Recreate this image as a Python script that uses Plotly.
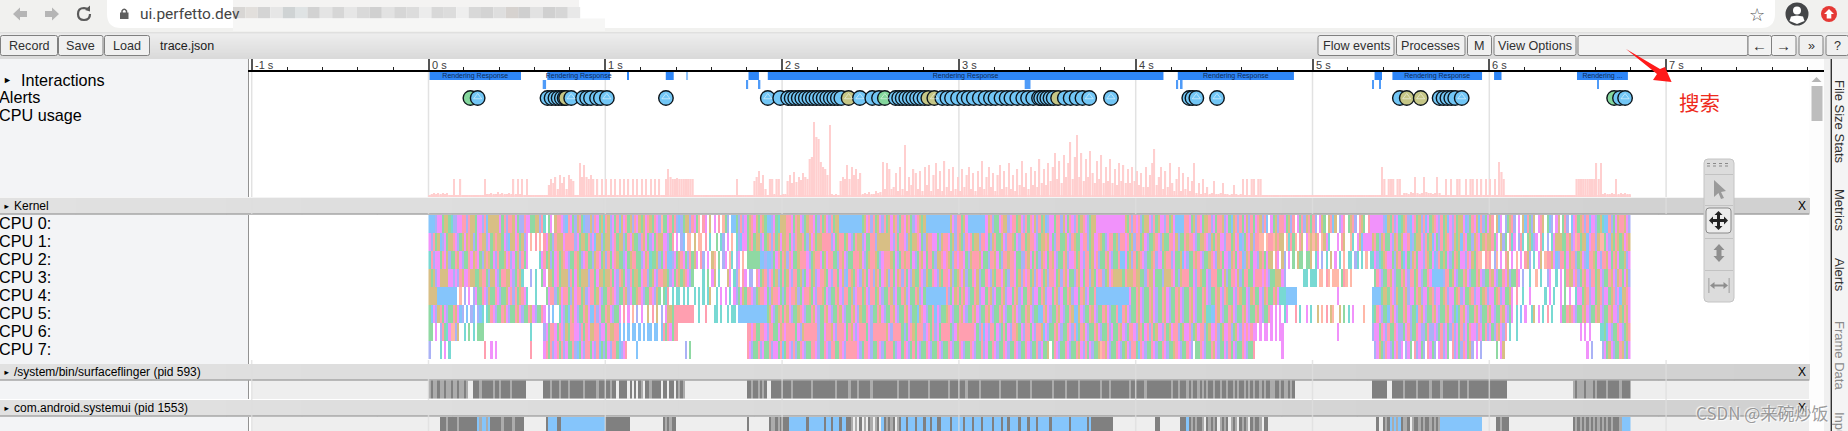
import plotly.graph_objects as go

W = 1848
H = 431
DT = 0.0125  # one letter / one usage value in the tracks below

time_ticks = [-1, 0, 1, 2, 3, 4, 5, 6, 7]
time_labels = ["-1 s", "0 s", "1 s", "2 s", "3 s", "4 s", "5 s", "6 s", "7 s"]

interaction_starts = [0.006, 0.672, 1.126, 1.342, 1.459, 1.810, 1.919, 4.238, 5.351, 5.452, 6.027, 6.496]
interaction_ends = [0.523, 1.027, 1.134, 1.387, 1.468, 1.869, 4.157, 4.895, 5.393, 5.959, 6.069, 6.784]
interaction_labels = ["Rendering Response", "Rendering Response", "", "", "", "", "Rendering Response",
                      "Rendering Response", "", "Rendering Response", "", "Rendering ..."]
interaction_pale = [False, False, False, False, True, False, False, False, False, False, False, False]

sub_starts = [0.646, 1.799, 1.869, 3.372, 4.229, 4.255, 5.342, 5.380, 6.614]
sub_ends = [0.665, 1.808, 1.877, 3.405, 4.240, 4.265, 5.347, 5.386, 6.620]

alert_times = [0.237, 0.278, 0.673, 0.696, 0.718, 0.736, 0.754, 0.770, 0.778, 0.807, 0.874, 0.897, 0.919,
               0.953, 0.975, 1.009, 1.343, 1.919, 1.989, 2.034, 2.054, 2.074, 2.094, 2.114, 2.134, 2.154,
               2.174, 2.194, 2.215, 2.235, 2.255, 2.275, 2.295, 2.315, 2.335, 2.376, 2.440, 2.510, 2.548,
               2.581, 2.642, 2.662, 2.682, 2.702, 2.722, 2.742, 2.763, 2.783, 2.805, 2.827, 2.861, 2.906,
               2.935, 2.961, 2.995, 3.029, 3.055, 3.084, 3.118, 3.151, 3.181, 3.207, 3.241, 3.270, 3.297,
               3.330, 3.364, 3.391, 3.420, 3.453, 3.465, 3.483, 3.500, 3.518, 3.536, 3.561, 3.599, 3.632,
               3.666, 3.699, 3.737, 3.860, 4.303, 4.321, 4.343, 4.460, 5.494, 5.533, 5.612, 5.719, 5.741,
               5.763, 5.785, 5.807, 5.844, 6.706, 6.739, 6.768]
alert_kinds = {0.237: "g", 0.778: "o", 2.376: "o", 2.581: "g", 2.827: "o", 2.861: "o", 3.561: "o",
               5.533: "o", 5.612: "o", 6.706: "g"}
alert_icons = [0.278, 0.807, 1.009, 1.343, 1.919, 2.376, 2.440, 2.581, 2.861, 3.737, 3.860, 4.343, 4.460,
               5.533, 5.612, 5.844, 6.768]

# cpu usage per DT, one list per second
usage = [
    [2,3,4,3,4,3,4,3,4,2, 2,18,2,2,18,2,2,2,2,2, 2,2,2,2,2,18,3,3,4,3, 3,5,3,4,3,3,4,3,18,3,
     18,3,18,2,18,2,2,2,2,2, 2,2,2,2,12,18,14,20,8,22, 14,20,8,22,18,16,2,2,34,20, 32,20,18,22,18,2,18,2,18,2],
    [18,2,18,2,18,2,18,2,18,2, 18,2,18,2,18,2,18,2,18,2, 18,2,18,2,18,2,2,18,28,20, 18,18,19,18,18,18,18,18,18,18,
     2,2,2,2,2,2,2,2,2,2, 2,2,2,2,2,2,2,2,2,18, 2,2,2,2,2,2,2,16,20,26, 14,22,8,2,18,18,3,18,18,2],
    [3,3,16,22,14,25,15,20,17,24, 20,18,38,40,75,60,58,35,30,28, 22,72,3,2,3,2,16,20,18,32, 18,30,22,28,18,24,3,4,3,5,
     3,3,6,4,5,35,8,34,28,8, 10,24,6,30,8,52,6,20,12,28, 24,8,26,6,30,12,32,6,22,34, 8,26,6,36,10,28,6,30,8,20],
    [6,28,10,22,30,8,24,6,26,10, 36,8,20,30,10,24,6,22,32,8, 26,10,34,8,22,6,28,12,36,10, 24,8,30,12,26,10,38,14,28,12,
     34,16,30,44,18,36,14,42,20,34, 55,18,40,62,20,44,16,38,20,46, 24,14,36,18,42,14,30,16,38,14, 28,12,34,16,32,14,28,14,30,16],
    [26,12,24,10,30,10,22,34,48,12, 20,30,8,26,10,34,14,6,18,30, 6,24,8,20,6,16,34,4,14,3, 18,4,10,3,4,16,3,3,4,14, 3,3,2,3,12,3,2,3,18,2,
     18,2,18,18,2,18,18,2,2,2, 2,2,2,2,2,2,2,2,2,2, 2,2,2,2,2,2,2,2,2,2],
    [2,2,2,2,2,2,2,2,2,2, 2,2,2,2,2,2,2,2,2,2, 2,2,2,2,2,2,2,2,2,2, 2,30,18,2,18,18,18,2,18,18, 2,4,4,3,5,4,20,4,3,4,
     20,5,4,4,3,4,20,4,2,2, 18,2,18,2,2,18,18,2,2,18, 2,18,18,2,18,2,18,2,18,2],
    [18,2,18,2,35,25,18,2,2,2, 2,2,2,2,2,2,2,2,2,2, 2,2,2,2,2,2,2,2,2,2, 2,2,2,2,2,2,2,2,2,18,
     18,18,18,18,18,18,18,18,34,18, 34,3,4,3,3,4,3,18,3,4, 3,4,3,3],
]

cpu_rows = [
    # CPU 0
    ["bbblmmgttg cllmmpplpt tgmmlpbttt ttmgplpptm gllpmmggtt lpc.gm.tpp mlbpmgltpg blltlpmgtc",
     "ptlmgpbtmp gtlpmtgtmp tgpmloggmp gplblgttlp mgo.pm.t.m .p.ogl.bbg lplmgtpmtg ptgbblmgct",
     "ttppmgptml gtppmglpgt mlpgttbbbb bbbbbbgtmp lpgtmlpgtm tplgpmtpgl mptgtbbbbb bbbbbbtmlp",
     "pgtmbbbbbb bbmtplggmp ttlmppgtml pgpmtlpgtb lmmgppltmg pmlpgtpmlg ttmmmmmmmm mmmmmtgplp",
     "mplgttmlpg tmmlpgtmbb bbppmgtlpm gttplmgppt lmgbtplpgm tlpgmptlpb .mgtlppmgt lp.mgpltpg",
     "pl.mtg.tpb t.lmp.gtpl .ptg.pmmmm mmlbtgplmc gtplbmpgtl pbmgtpmlpg tbmlpgttmb lgpmtbplgm",
     "tp.tbm.lgt pl.m.tbpgl t.mpt.gbl. mt.gpl.bmp gtplpbmmlg tcbbplgmtp ptml"],
    # CPU 1
    ["mlpgtblmgt tpmlgtmtpt lgmpttlmgt pttgmlbttm pgtlm.o.p. o.pmtglptt tmpppplmgt tgplmbttlg",
     "ttlmpgttlg pmtgglptmg lmgpttmmlg p.m.lb.oo. t.oo.p.c.. g.cl.m.o.c lbmmgtpgtt lmgtplpgtm",
     "ttpgmlpttp gltmpgttpp pplmgtppgt mlgpttlmgg pplttttttm lpgppmltgt tpmgltppmm gltppmgtlp",
     "tglpmpgttl ppmgltpggt mlpptgmlpp gtppmlgttp tmglppggtm lptggmpplg tmmptglmpp gtlppmpgtl",
     "ppgtmlggtp mltggppmtl ggptppmlgt tpmltgptmm lppgtmpblg pmtlppoo.o ppotptt.oc pgo.pt.mot",
     "otp.otmc.. .m.pt..oc. mtbmmmmtpg ltpggmltpg tmmpblgttm lpgtbmglpg tpmltgtbpm ggltpmgtpt",
     "tpgm.tlg.p cm.lpc.gtc lm.pc.l.cm tttggptlmo pgttbmpplt oogmltgptg tmpt"],
    # CPU 2
    ["cplmmgpmtl ggptmlggpm tpmgltptgm lpggtmplmg tlpgm..... cmpgtlgmpg tpmlggptgl mpggltpmgt",
     "lpgmptgglm gtppgglmtp cggtlgmpbb lmgtpmglpg tm.pl.m.to .g.lm.oc.l m.o.gggggg bblbblgmpg",
     "ptlpmggtpp pmlgtppmgt mppgglptml ggppptmlgt pptglmpppt gmlgptppgm lgptmgppgl ttpmptglpm",
     "ppmgltpppt mgglpptmgl pptppmggll ptmgpgltpm gptmlggptl mmpgtmlppg tmplggptml ggpbbmgtlp",
     "gtpmlggtpl mmgtpplmgg tbmlggptpm lggtpmltpg mmltpgmpbl tpgmmltpgm tt.pm.tl.m .g.tgg.ggt",
     ".cm.l.c.t. m.c.o.cc.l c.c.o.ccml cgtpmmgltp gbmgltpgmm lptgmblpgt gmlgptgmml pmtgpoo.po",
     "p.lo.m.pt. m.o.m.ptl. c.mt.opptm blppgmtppl gtmlbpptgm lpptmgptmg gtlm"],
    # CPU 3
    ["tgtlmttttm mlmlptmmpt tggtppgltt mlgppttmlg ptc...l.c. .gm.ttgmpg tttlpgmtgt ttlppgmttg",
     "ttpgmlptgm lpgttgmppl gtmlppttgl mgptgtpmlg ....c.g.mt .c...tm.cl o.pm.ll.pm gtplmpgtlg",
     "pgtmlppgtl gmpgtlmppt gmlppgmtlb ptgpmltpgm pltpgmptlp gmtplpgmlt ggpmltggpm ltgppmtlgt",
     "pmtlggpmtl ggpmltgppm tglppmgtlp mpgtlpmpgt lppmgtlptm gglptmgppl tgmppl gtmp ttttgptttp",
     "ttgglpttmg ggltttpmgl tpppggmlpt ggmlpppggm tlgppmtlgp pggmpppmpm lggtttml.. ......cc.c",
     "cc.oo.po.o oo.gpo.o.. ........gp mlggptmlgg ptmlppgtml ggpmbbbbbl ppgtmlggpt mlggptmlgg",
     "ptmlggpmtl ggpm.l..c. .o.c..lm.. c.m.gpttmp lgptmlppgt mlggptmltp gmtl"],
    # CPU 4
    ["ttttbbbbbb bbb.o.l.m. lmggpmltgg pmlggtmplp gtpmc...c. ...gmpplgt mppgltmppg tlmppgtmlg",
     "gptpmlggpt lmggtpmlgg pmltg.gcp. c.cc.c.c.. c.c.c.ct.. c.m.m.c.ml gmtgppmlgt ppmgltppmg",
     "lgpmpptlgm pptgmlpptg mlggptmlpp gtlmppgtml ppgtmlggpt lmggptlmgg ptlmgbbbbb bbbbplgmtp",
     "gptmlggptl mmgptlmggp tlmmgptlmg gptlmmgptl mmgptlmggp tlmmgptlmg gpbbbbbbbb bbbbbbbmgg",
     "ptmlggptml ggptmlggpt mlggptmlgg ptmlggptml ptggmlptgg mltpggmltp ggptmcccbb bbb.......",
     ".......... .m........ .......bbb bgttgpmltg gptlmmgptl mmgtplmmgt plmmgtplmg gtplmmgtpl",
     "mmgtplmggt m.p..c..m. .....c.m.c ..m.g.m..c mmgtplmmgt plmmgtplmb ttpm"],
    # CPU 5
    ["gbmltpgmlg gptmbl.b.l b.lbc.cgpm lggptmlggp tmlggptmlg gpm.l.b..c mlgbptmlgg ptmbbplmgg",
     "ptmlggm.p. m.o.l.m..t .p.t.l.mtt gppppppppp ..c..p...c c.c..c.cc. bbbbbbbbbb bbbgtmlgtp",
     "gptmlggtpm lggptmlggp tmlggptmlg gptmltggpm lggptmlggp tmlggptmlg gbtpmlggpb mlggtpmlgg",
     "ptmlggptml ggptmlggpt mlggptmlgg ptmlggbbpt mlggptmlgg ptbbtmlggp tmlggptmlg gpbbptmlgg",
     "ptmlggptml ggptmlggpt mlggptmlgg ptccbbptml ggptmlggpt mlggptmlgg pm.m.m.cm. ..p.c..m.c",
     "..t.o.p.to ..t.g.c.m. ...o...cgp mlggbptmlg gptmlggbpt mlggptmlgg ptmlgbgptm lggptmlggp",
     "tmlggptmlg m.c.b.m..c t.m.c.p.c. ..mggptpml ggptmlggpt mlggptmmlt gptm"],
    # CPU 6
    ["gg.m.lpgcm oolt..c.g. c.ggg..... .......... ......c... ..lmgppmgp mltgppmmlp gpmttpplmm",
     "gpttppb.b. b.bb.b.b.b b.bb.bpgpm gpp....... .......... .......... ....ppmpgg ppmlppggmt",
     "pmppppgmlt pppppplggm pptmlpppmg ptmlmpppgm lpppppptml ppppglgmpt gppplmpgpl mgppppglmt",
     "pppppppmgl pbmlppgmlg pgmlpptgml ppgmlpptbm lggptmlggp mlpbgptmlg gptmlggplm ggptmlgppm",
     "ltpgmplpgt mmlpgtmppl gtmmplgtmp plgtmmplgt mmplgtmlpm pmpmm.m.mm .m.m.mm... ..........",
     ".......... .m........ .......lmm gpmlpggpml lgmplggpml lgpllmlgpl mglplmgplm gpmmlpmgpl",
     "mglptmlp.c ..c....... .......... ..........  .m.m.m.... ccgbmlggpm lgtp"],
    # CPU 7
    ["l....c.m.c .......... .....p..m. m......... ......p... ..mpgplmpg plmggplbgm lppgmlpbgl",
     "gmlppgblmp ....b..... .......... ......l.g. .......... .......... ....pmlggp lmggplmmgp",
     "bgpmlplgpm lggppmlggp mlppggpmlp ppppmlgppm lggpmlgppp glmmgpmlgp gmlggpmlgg pmlggpmlgg",
     "pmlggpmlgg plmggpmlgg pmlggpmlgg pmlggplmgg t.gpmlggpm lggptmlpgm lggtoptmlg gpmlgtmlpp",
     "gbpmlggpml ggpmlggtpm lggpml.ggp mlggptmlgg mlpgmlggpm lggp...... ......m... ..........",
     ".......... .......... ........lm tglpmlgmpl m.lmg.plmg l.pmgl.mpl mg.plmglpm gtl.m.l...",
     "...g.mt... .......... .......... ............ ..m.l... .lmgtmlggp tlgm"],
]

# d = dark slice, a = light slice, b = blue slice, . = no slice
surfaceflinger_row = [
    "adaadaadaa daadaada.. dddaddddda ddaddddadd dddd...... ..dddaddda dddadddddd adddddaddd",
    "ddadd.dddd .d.d.da.dd adddd.dd.d d.dada.... .......... .......... ....ddadda dad..ddddd",
    "ddddaddddd dddadddddd ddddaddddd adddaddddd addddddddd ddaddddadd ddddddaddd dddddadddd",
    "dddaddddda ddddddddad ddddddaddd ddaddddddd ddadddddad ddddaddddd ddddadddad dddddddadd",
    "ddddaddddd ddddddadda dddadaddad adaddaddad daddadadda dadaddadad daaddadaad ad........",
    ".......... .......... .......ddd dddd..dddd dadddddadd dddaddddad ddddddaddd addddddddd",
    "dddddddd.. .......... .......... ........ad aaadaaadad dddaddddda dddd",
]
systemui_row = [
    ".....dddad dddadddddd ddbabbabdd dddaddddad ddd....... ...dbbbbdd bbbbbbbbbb bbbbbbbbbb",
    "dddddddddd d......... ......dada dd........ .......... .......... ....d..... ....daadad",
    "dddbbbbbbb bdbbbbbbbd bbdbbbdbbd da.a.d.a.d a.ad.bdada d.adbbdbbb dbbbdbbdbb ddbbbbdbbb",
    "bbdbbbdbbb dbbbbdbbbd bbdbbbbdbb bdbbbdbbbb bdbbbbbbbb dbbbbbbbdb dddddddddd ..........",
    ".........d d......... dddbdadadd a.dadad.ad ad.ada.dad a.dadda.dd .......... ..........",
    ".......... .......... .........d ..dadbabab daad.addad addadadabb bbbbbbbbbb bbbbbbb...",
    "...ddaddd. .......... .......... ........da dadadadada dadadaddda bbbb",
]

mosaic_shades = ["#d8d6d4", "#e2dfdc", "#d4d4d4", "#e6e6e6", "#cfd3d4", "#dfe3e4", "#d2d2d2", "#e4e4e4",
                 "#d6d6d6", "#e6e6e6", "#d9d9d9", "#d0d0d0", "#e2e2e2", "#d6d6d6", "#dcdcdc", "#ececec",
                 "#d8d8d8", "#dcdcdc", "#eeeeee", "#d8d8d8", "#d3d3d3", "#dedede", "#d6d2cf", "#cfcfcf",
                 "#e2e2e2", "#d0d0d0", "#d6d6d6", "#e8e8e8"]
cpu_names = ["CPU 0:", "CPU 1:", "CPU 2:", "CPU 3:", "CPU 4:", "CPU 5:", "CPU 6:", "CPU 7:"]

palette = {"b": "#85c5fb", "p": "#ff9fb0", "m": "#f192fb", "t": "#d8bf85", "g": "#8fd9a3", "c": "#78d9d3",
           "l": "#aab2f6", "o": "#ffb8a8", "d": "#808080", "a": "#acacac"}
letters = list(palette)
colorscale = []
for i, letter in enumerate(letters):
    colorscale.append([i / len(letters), palette[letter]])
    colorscale.append([(i + 1) / len(letters), palette[letter]])


def decode(chunks):
    # every chunk is one second of 80 cells; a short chunk keeps its last slice running on
    out = []
    for n, chunk in enumerate(chunks):
        s = chunk.replace(" ", "")
        if n < len(chunks) - 1:
            s = (s + s[-1] * 80)[:80]
        else:
            s = (s + s[-1] * 64)[:64]
        out += [letters.index(c) if c != "." else None for c in s]
    return out


shapes = []
annotations = []


def px(x):
    return x / W


def rect(x0, y0, x1, y1, fill, line=None, layer="below", width=1):
    shapes.append(dict(type="rect", xref="paper", yref="y", x0=px(x0), x1=px(x1), y0=y0, y1=y1, layer=layer,
                       fillcolor=fill, line=dict(color=line, width=width if line else 0)))


def round_rect(x0, y0, x1, y1, r, fill, line=None, layer="below"):
    pts = (f"M {px(x0 + r)},{y0} L {px(x1 - r)},{y0} Q {px(x1)},{y0} {px(x1)},{y0 + r} "
           f"L {px(x1)},{y1 - r} Q {px(x1)},{y1} {px(x1 - r)},{y1} L {px(x0 + r)},{y1} "
           f"Q {px(x0)},{y1} {px(x0)},{y1 - r} L {px(x0)},{y0 + r} Q {px(x0)},{y0} {px(x0 + r)},{y0} Z")
    shapes.append(dict(type="path", xref="paper", yref="y", path=pts, fillcolor=fill, layer=layer,
                       line=dict(color=line, width=1 if line else 0)))


def poly(points, fill, layer="above", line=None, width=1, close=True):
    path = "M " + " L ".join(f"{px(x)},{y}" for x, y in points) + (" Z" if close else "")
    shapes.append(dict(type="path", xref="paper", yref="y", path=path, layer=layer,
                       fillcolor=fill if close else "rgba(0,0,0,0)", line=dict(color=line, width=width if line else 0)))


def circle(cx, cy, r, fill, layer="above"):
    shapes.append(dict(type="circle", xref="paper", yref="y", x0=px(cx - r), x1=px(cx + r), y0=cy - r, y1=cy + r,
                       fillcolor=fill, layer=layer, line=dict(width=0)))


def label(x, y, text, size, color="#000000", anchor="left", angle=0, family="Liberation Sans", shadow=None):
    font = dict(size=size, color=color, family=family)
    if shadow:
        font["shadow"] = shadow
    annotations.append(dict(text=text, x=px(x), y=y, xref="paper", yref="y", showarrow=False, xanchor=anchor,
                            yanchor="middle", font=font, textangle=angle, borderpad=0, borderwidth=0))


def shade(a, b, t):
    v = int(round(a + (b - a) * t))
    return f"rgb({v},{v},{v})"


def header(y0, y1):
    for i in range(24):
        rect(1809 * i / 24, y0, 1809 * (i + 1) / 24 + 1, y1, shade(225, 209, i / 23))
    rect(0, y1 - 1, 1809, y1, "#8a8a8a")


def button(x0, x1, text, size=12.6, y0=35.5, y1=55.5, fill="#f0f0f0"):
    round_rect(x0, y0, x1, y1, 2, fill, "#808080")
    if text:
        label((x0 + x1) / 2, (y0 + y1) / 2, text, size, "#303030", anchor="center")


# browser bar
rect(0, 0, W, 33, "#f1f1ef")
round_rect(107, -14, 1775, 28, 14, "#ffffff")
for i, gray in enumerate(mosaic_shades):
    rect(233 + i * 12.4, 7, 233 + (i + 1) * 12.4, 18.5, gray)
rect(233, 18.5, 605, 31, "#f6f6f5")
rect(233, 0, 579, 7, "#f4f3f2")
rect(0, 32.5, W, 33.5, "#cfcfcf")
poly([(13, 14), (20, 7.5), (20, 11), (27, 11), (27, 17), (20, 17), (20, 20.5)], "#b5b5b5", layer="below")
poly([(59, 14), (52, 7.5), (52, 11), (45, 11), (45, 17), (52, 17), (52, 20.5)], "#b5b5b5", layer="below")
shapes.append(dict(type="path", xref="paper", yref="y", layer="below", fillcolor="rgba(0,0,0,0)",
                   line=dict(color="#5a5a5a", width=2.2),
                   path=f"M {px(90)},14 Q {px(90)},20 {px(84)},20 Q {px(78)},20 {px(78)},14 "
                        f"Q {px(78)},8 {px(84)},8 L {px(89)},9"))
poly([(90, 5.5), (90, 11.5), (85, 10)], "#5a5a5a", layer="below")
rect(120, 12.5, 128.5, 19, "#5f5f5f")
shapes.append(dict(type="path", xref="paper", yref="y", layer="below", fillcolor="rgba(0,0,0,0)",
                   line=dict(color="#5f5f5f", width=1.5),
                   path=f"M {px(122)},13 L {px(122)},11 Q {px(124.2)},7.5 {px(126.5)},11 L {px(126.5)},13"))
label(140, 14, "ui.perfetto.dev", 15.5, "#454545", family="Roboto")
label(1757, 14, "☆", 18, "#555555", anchor="center", family="DejaVu Sans")
circle(1797, 14, 11.5, "#444648")
circle(1797, 10.5, 4, "#ffffff")
poly([(1789.5, 21), (1791, 16.5), (1797, 15.5), (1803, 16.5), (1804.5, 21), (1797, 24)], "#ffffff")
circle(1829, 14, 8, "#e53935")
poly([(1829, 9), (1834, 14), (1831.3, 14), (1831.3, 18.5), (1826.7, 18.5), (1826.7, 14), (1824, 14)], "#ffffff")

# toolbar
for i in range(26):
    rect(0, 33.5 + i, W, 34.5 + i, shade(232, 205, i / 25))
button(0.5, 57.5, "Record")
button(58.5, 103, "Save")
button(104.5, 149.5, "Load")
label(160, 46, "trace.json", 12.5, "#202020")
button(1318, 1394, "Flow events")
button(1396.5, 1465, "Processes")
button(1467.5, 1491.5, "M")
button(1494, 1576, "View Options")
button(1578, 1748, "", fill="#f3f3f3")
button(1748, 1771.5, "←", size=15, fill="#f3f3f3")
button(1771.5, 1796, "→", size=15, fill="#f3f3f3")
button(1799, 1823, "»")
button(1826, 1848.5, "?")

# left panel and main area
rect(0, 59, 248, H, "#f3f4f6")
rect(248, 59, 1824, 71, "#ffffff")
rect(1809, 59, 1824, H, "#fdfdfd")
rect(1824, 59, 1831, H, "#f0f0f0")
rect(1831, 59, 1848, H, "#f4f4f4")
rect(248, 59, 248.8, 198, "#777777")
rect(248, 215, 248.8, 364, "#777777")
rect(252, 380, 1809, 399, "#eeeeee")
rect(252, 417, 1809, H, "#eeeeee")
rect(248, 380, 248.8, 399, "#777777")
rect(248, 417, 248.8, H, "#777777")
rect(0, 197, 1809, 198, "#f4f4f4")
header(198, 214.5)
header(364, 380.5)
rect(0, 399, 1809, 400, "#ffffff")
header(400, 416.5)

label(3, 79.5, "►", 9)
label(21, 79.5, "Interactions", 16.2)
label(-1, 97, "Alerts", 16.2)
label(-1, 115, "CPU usage", 16.2)
label(3, 206, "►", 7.5)
label(14, 206, "Kernel", 12)
label(3, 372, "►", 7.5)
label(14, 372, "/system/bin/surfaceflinger (pid 593)", 12)
label(3, 408, "►", 7.5)
label(14, 408, "com.android.systemui (pid 1553)", 12)
for i, name in enumerate(cpu_names):
    label(-1, 223 + 18 * i, name, 16.2)
label(1802, 206, "X", 12, anchor="center")
label(1802, 372, "X", 12, anchor="center")
label(1802, 408, "X", 12, anchor="center")

for i, t in enumerate(time_ticks):
    annotations.append(dict(text=time_labels[i], x=t, y=64.5, xref="x", yref="y", xanchor="left", yanchor="middle",
                            xshift=1, showarrow=False, font=dict(size=11, color="#404040", family="Liberation Sans")))
    # under the bars up here, over the headers and tracks further down
    shapes.append(dict(type="line", xref="x", yref="y", x0=t, x1=t, y0=71, y1=197, layer="below",
                       line=dict(color="#e2e2e2", width=1.5)))
    for y0, y1 in [(198, 214), (360, 431)]:
        shapes.append(dict(type="line", xref="x", yref="y", x0=t, x1=t, y0=y0, y1=y1, layer="above",
                           line=dict(color="rgba(222,222,222,0.75)", width=1.5)))

# scrollbar and side tabs
poly([(1811.5, 82), (1816.5, 77), (1821.5, 82)], "#b5b5b5", layer="below")
rect(1811.5, 86, 1822.5, 121, "#bdbdbd")
label(1840, 122, "File Size Stats", 13, "#303030", anchor="center", angle=90)
label(1840, 210, "Metrics", 13, "#303030", anchor="center", angle=90)
label(1840, 275, "Alerts", 13, "#303030", anchor="center", angle=90)
label(1840, 355, "Frame Data", 13, "#8a8a8a", anchor="center", angle=90)
label(1840, 426, "Input", 13, "#8a8a8a", anchor="center", angle=90)
rect(1830.6, 59, 1832, H, "#333333", layer="above")

# floating tool panel
round_rect(1704, 159, 1734, 302, 4, "#dcdcdc", "#c4c4c4", layer="above")
for y in (163.5, 166):
    shapes.append(dict(type="line", xref="paper", yref="y", x0=px(1707), x1=px(1731), y0=y, y1=y, layer="above",
                       line=dict(color="#8a8a8a", width=1, dash="dot")))
for y in (174, 205, 238, 270):
    rect(1705, y, 1733, y + 1, "#c2c2c2", layer="above")
round_rect(1706, 208, 1731, 233, 3, "#ececec", "#8a8a8a", layer="above")
poly([(1714, 180), (1726, 191), (1721, 192), (1724, 198), (1721, 199), (1718.5, 193), (1714, 197)], "#9a9a9a")
poly([(1718.5, 211), (1714.5, 215), (1717, 215), (1717, 219), (1713, 219), (1713, 216.5), (1709, 220.5),
      (1713, 224.5), (1713, 222), (1717, 222), (1717, 226), (1714.5, 226), (1718.5, 230), (1722.5, 226),
      (1720, 226), (1720, 222), (1724, 222), (1724, 224.5), (1728, 220.5), (1724, 216.5), (1724, 219),
      (1720, 219), (1720, 215), (1722.5, 215)], "#222222")
poly([(1719, 244), (1713.5, 250), (1716.5, 250), (1716.5, 256), (1713.5, 256), (1719, 262), (1724.5, 256),
      (1721.5, 256), (1721.5, 250), (1724.5, 250)], "#8e8e8e")
poly([(1710, 285.5), (1714.5, 282), (1714.5, 284.5), (1723.5, 284.5), (1723.5, 282), (1728, 285.5),
      (1723.5, 289), (1723.5, 286.5), (1714.5, 286.5), (1714.5, 289)], "#8e8e8e")
rect(1708.5, 278, 1709.3, 293, "#8e8e8e", layer="above")
rect(1728.7, 278, 1729.5, 293, "#8e8e8e", layer="above")

# annotation added over the screenshot
poly([(1626, 49), (1660, 69), (1665, 67), (1671.6, 82), (1653, 80), (1657, 74)], "#ff1a1a")
label(1699.5, 102, "搜索", 20.5, "#ee2a1c", anchor="center", family="Noto Sans CJK SC")
label(1696, 412, "CSDN @来碗炒饭", 17, "rgba(130,130,130,0.8)", family="Noto Sans CJK SC",
      shadow="1px 1px 1px #ffffff, -1px -1px 1px #ffffff")

fig = go.Figure()

# cpu usage, lone spikes are thinner than the runs
usage_values = [v for second in usage for v in second]
usage_x = [(i + 0.5) * DT for i in range(len(usage_values))]
usage_width = []
for i, v in enumerate(usage_values):
    left = usage_values[i - 1] if i else 0
    right = usage_values[i + 1] if i + 1 < len(usage_values) else 0
    usage_width.append(DT * 0.55 if v > left and v > right else DT)
fig.add_trace(go.Bar(x=usage_x, y=[-v for v in usage_values], base=197, width=usage_width,
                     marker=dict(color="#ffcfcf", line=dict(width=0))))
fig.add_trace(go.Bar(x=usage_x, y=[-min(v, 2) for v in usage_values], base=197, width=DT,
                     marker=dict(color="#ffcfcf", line=dict(width=0))))

# interactions
fig.add_trace(go.Bar(y=[75.5] * len(interaction_starts), base=interaction_starts,
                     x=[e - s for s, e in zip(interaction_starts, interaction_ends)], width=9, orientation="h",
                     marker=dict(color=["#8fc3fa" if p else "#2e86f7" for p in interaction_pale], line=dict(width=0)),
                     text=interaction_labels, textposition="inside", insidetextanchor="middle", textangle=0,
                     constraintext="none", textfont=dict(size=7, color="#0e2a52", family="Liberation Sans")))
fig.add_trace(go.Bar(y=[84.5] * len(sub_starts), base=sub_starts,
                     x=[e - s for s, e in zip(sub_starts, sub_ends)], width=9, orientation="h",
                     marker=dict(color="#4f9bf8", line=dict(width=0))))

# alerts
kind_colors = {"b": "#72c6f5", "g": "#84d69c", "o": "#c5c686"}
fig.add_trace(go.Scatter(x=alert_times, y=[98] * len(alert_times), mode="markers",
                         marker=dict(size=14.5, color=[kind_colors[alert_kinds.get(t, "b")] for t in alert_times],
                                     line=dict(color="#0c141a", width=1.4))))
fig.add_trace(go.Scatter(x=alert_icons, y=[97] * len(alert_icons), mode="markers",
                         marker=dict(size=7, symbol="triangle-up-open", color="rgba(255,255,255,0.65)",
                                     line=dict(width=0.8, color="rgba(255,255,255,0.65)"))))

# per cpu slices
fig.add_trace(go.Heatmap(z=[decode(row) for row in cpu_rows], x0=DT / 2, dx=DT, y0=224, dy=18, zmin=0,
                         zmax=len(letters), colorscale=colorscale, showscale=False, hoverinfo="skip"))
fig.add_trace(go.Heatmap(z=[decode(surfaceflinger_row), decode(surfaceflinger_row)], x0=DT / 2, dx=DT, y0=385, dy=9,
                         zmin=0, zmax=len(letters), colorscale=colorscale, showscale=False, hoverinfo="skip"))
fig.add_trace(go.Heatmap(z=[decode(systemui_row), decode(systemui_row)], x0=DT / 2, dx=DT, y0=421.5, dy=9,
                         zmin=0, zmax=len(letters), colorscale=colorscale, showscale=False, hoverinfo="skip"))

fig.update_layout(
    width=W,
    height=H,
    margin=dict(l=0, r=0, t=0, b=0),
    autosize=False,
    showlegend=False,
    hovermode=False,
    barmode="overlay",
    paper_bgcolor="#ffffff",
    plot_bgcolor="#ffffff",
    shapes=shapes,
    annotations=annotations,
    xaxis=dict(
        domain=[248 / W, 1824 / W],
        range=[(248 - 428.5) / 176.8, (1824 - 428.5) / 176.8],
        anchor="free",
        position=1 - 70.5 / H,
        side="top",
        showgrid=False,
        zeroline=False,
        showticklabels=False,
        showline=True,
        linecolor="#000000",
        linewidth=1.5,
        ticks="outside",
        tickmode="array",
        tickvals=time_ticks,
        ticklen=11,
        tickwidth=1.5,
        tickcolor="#555555",
        minor=dict(dtick=0.2, tick0=0, ticks="outside", ticklen=3, tickwidth=1, tickcolor="#222222", showgrid=False),
    ),
    yaxis=dict(domain=[0, 1], range=[H, 0], visible=False, fixedrange=True),
)

fig.write_html("out.html", config=dict(displayModeBar=False),
               post_script="document.body.style.margin='0';document.body.style.overflow='hidden';")
